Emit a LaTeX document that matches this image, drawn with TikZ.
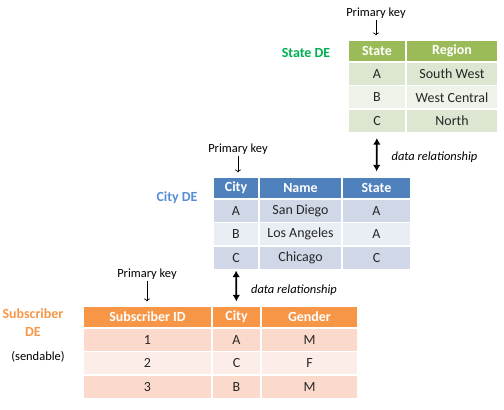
\documentclass[tikz,border=0pt]{standalone}
\usepackage{fontspec}
\setmainfont{Carlito}
\usepackage{tikz}
\usetikzlibrary{arrows.meta}
\definecolor{gnhead}{HTML}{9BBB59}
\definecolor{gndark}{HTML}{DCE6D1}
\definecolor{gnlight}{HTML}{EEF3EA}
\definecolor{gntitle}{HTML}{00B050}
\definecolor{buhead}{HTML}{4F81BD}
\definecolor{budark}{HTML}{D0D8E8}
\definecolor{bulight}{HTML}{E9EDF4}
\definecolor{butitle}{HTML}{558ED5}
\definecolor{orhead}{HTML}{F79646}
\definecolor{ordark}{HTML}{FBD9CB}
\definecolor{orlight}{HTML}{FDEDE8}
\definecolor{ortitle}{HTML}{F79646}
\begin{document}
\begin{tikzpicture}[x=1bp, y=-1bp,
    cell/.style={draw=white, line width=1.2bp, inner sep=0pt, minimum height=23.5bp,
      font=\fontsize{14}{16}\selectfont, text=black!85},
    head/.style={cell, minimum height=22bp, text=white, font=\fontsize{14}{16}\selectfont\bfseries},
    tname/.style={font=\fontsize{14}{18}\selectfont\bfseries, align=center},
    small/.style={font=\fontsize{12.5}{14}\selectfont, inner sep=1bp},
    pk/.style={->, shorten >=4bp, line width=0.6bp},
    rel/.style={{Latex[length=6.5bp,width=7.5bp]}-{Latex[length=6.5bp,width=7.5bp]}, line width=1.8bp},
    rl/.style={small, font=\fontsize{12.5}{14}\selectfont\itshape, right, xshift=13bp, yshift=-2bp}]
    \useasboundingbox (0,0) rectangle (504,409);
         \node[tname, text=gntitle] (ST) at (306,53) {State DE};
         \node[small] (PKS) at (376,13) {Primary key};
         \node[head, fill=gnhead, minimum width=58bp] (SH1) at (377,51) {State};
         \node[head, fill=gnhead, minimum width=92bp] (SH2) at (452,51) {Region};
         \node[cell, fill=gndark, minimum width=58bp] (S11) at (377,73.75) {A};
         \node[cell, fill=gndark, minimum width=92bp] (S12) at (452,73.75) {South West};
         \node[cell, fill=gnlight, minimum width=58bp] (S21) at (377,97.25) {B};
         \node[cell, fill=gnlight, minimum width=92bp] (S22) at (452,97.25) {West Central};
         \node[cell, fill=gndark, minimum width=58bp] (S31) at (377,120.75) {C};
         \node[cell, fill=gndark, minimum width=92bp] (S32) at (452,120.75) {North};
         \node[tname, text=butitle] (CT) at (177,198) {City DE};
         \node[small] (PKC) at (238,149) {Primary key};
         \node[head, fill=buhead, minimum width=46bp] (CH1) at (236,188) {City};
         \node[head, fill=buhead, minimum width=83bp] (CH2) at (300.5,188) {Name};
         \node[head, fill=buhead, minimum width=69bp] (CH3) at (376.5,188) {State};
         \node[cell, fill=budark, minimum width=46bp] (C11) at (236,210.75) {A};
         \node[cell, fill=budark, minimum width=83bp] (C12) at (300.5,210.75) {San Diego};
         \node[cell, fill=budark, minimum width=69bp] (C13) at (376.5,210.75) {A};
         \node[cell, fill=bulight, minimum width=46bp] (C21) at (236,234.25) {B};
         \node[cell, fill=bulight, minimum width=83bp] (C22) at (300.5,234.25) {Los Angeles};
         \node[cell, fill=bulight, minimum width=69bp] (C23) at (376.5,234.25) {A};
         \node[cell, fill=budark, minimum width=46bp] (C31) at (236,257.75) {C};
         \node[cell, fill=budark, minimum width=83bp] (C32) at (300.5,257.75) {Chicago};
         \node[cell, fill=budark, minimum width=69bp] (C33) at (376.5,257.75) {C};
         \node[tname, text=ortitle] (BT) at (33,323) {Subscriber\\DE};
         \node[small] (BS) at (38,357) {(sendable)};
         \node[small] (PKB) at (147,274) {Primary key};
         \node[head, fill=orhead, minimum width=129bp] (BH1) at (147.5,317) {Subscriber ID};
         \node[head, fill=orhead, minimum width=49bp] (BH2) at (236.5,317) {City};
         \node[head, fill=orhead, minimum width=97bp] (BH3) at (309.5,317) {Gender};
         \node[cell, fill=ordark, minimum width=129bp] (B11) at (147.5,339.75) {1};
         \node[cell, fill=ordark, minimum width=49bp] (B12) at (236.5,339.75) {A};
         \node[cell, fill=ordark, minimum width=97bp] (B13) at (309.5,339.75) {M};
         \node[cell, fill=orlight, minimum width=129bp] (B21) at (147.5,363.25) {2};
         \node[cell, fill=orlight, minimum width=49bp] (B22) at (236.5,363.25) {C};
         \node[cell, fill=orlight, minimum width=97bp] (B23) at (309.5,363.25) {F};
         \node[cell, fill=ordark, minimum width=129bp] (B31) at (147.5,386.75) {3};
         \node[cell, fill=ordark, minimum width=49bp] (B32) at (236.5,386.75) {B};
         \node[cell, fill=ordark, minimum width=97bp] (B33) at (309.5,386.75) {M};
         \draw [pk] (PKS) -- (PKS |- SH1.north);
         \draw [pk] (PKC) -- (PKC |- CH1.north);
         \draw [pk] (PKB) -- (PKB |- BH1.north);
         \draw [rel, shorten <=5bp, shorten >=5bp] (S31) -- node [rl] {data relationship} (CH3);
         \draw [rel, shorten <=0.5bp, shorten >=4bp] (C31) -- node [rl] {data relationship} (BH2);
 \end{tikzpicture}
\end{document}
